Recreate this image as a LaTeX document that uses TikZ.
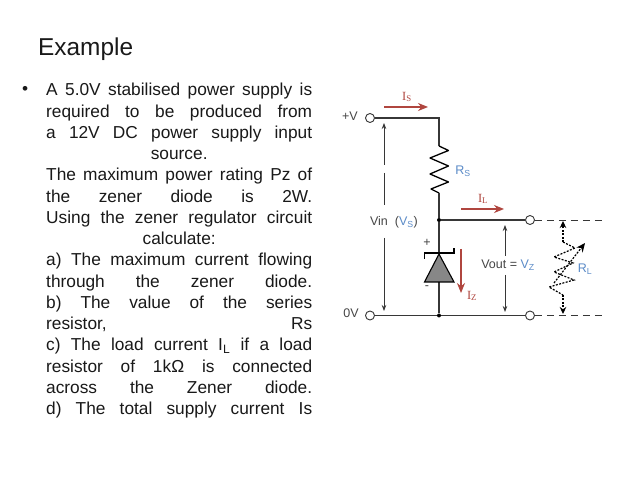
\documentclass[tikz,border=0pt]{standalone}
\usepackage{fontspec}
\setmainfont{Liberation Sans}
\newfontfamily\labelserif{Liberation Serif}
\definecolor{myCurrentRed}{RGB}{176, 70, 63}
\definecolor{myLabelBlue}{RGB}{91, 139, 200}
\definecolor{myWireGrey}{RGB}{55, 55, 55}
\definecolor{myTextGrey}{RGB}{70, 70, 70}
\definecolor{myDiodeGrey}{RGB}{135, 135, 135}
\usetikzlibrary{arrows.meta,positioning}
\newcommand{\bodyline}[1]{\leavevmode\hbox to 266pt{\frenchspacing\spaceskip=.278em plus 1fil\relax #1}}
\newcommand{\bodymid}[1]{\makebox[266pt][c]{#1}}
\tikzset{
    wire/.style={draw=myWireGrey, line width=1.1pt},
    terminal/.style={circle, draw=myWireGrey, fill=white, line width=0.9pt, minimum size=9pt, inner sep=0pt},
    junction/.style={circle, fill=black, minimum size=4pt, inner sep=0pt},
    loadwire/.style={draw=myWireGrey, line width=0.9pt, dash pattern=on 7pt off 5pt},
    currentarrow/.style={draw=myCurrentRed, line width=1.1pt, -{Stealth[length=10pt, width=8pt]}},
    voltarrow/.style={draw=myWireGrey, line width=0.8pt, -{Stealth[length=6pt, width=4.5pt]}},
    dottedpart/.style={draw=black, line width=1.2pt, dash pattern=on 2pt off 1.4pt},
    currentlabel/.style={text=myCurrentRed, font=\fontsize{12.5}{13}\labelserif, inner sep=0pt},
    bluelabel/.style={text=myLabelBlue, font=\fontsize{12.5}{13}\selectfont, inner sep=0pt},
    greylabel/.style={text=myTextGrey, font=\fontsize{12.5}{13}\selectfont, inner sep=0pt}
}

\begin{document}
\begin{tikzpicture}[x=1pt, y=-1pt]
    \useasboundingbox (0,0) rectangle (638,478);
    \fill[white] (0,0) rectangle (638,478);

    \node[anchor=base west, inner sep=0pt, text=black!90, font=\fontsize{24.4}{28}\selectfont] (title) at (38,56) {Example};
    \node[anchor=base west, inner sep=0pt, text=black!90, font=\fontsize{17.3}{20}\selectfont] (bullet) at (22,95) {•};
    \node[anchor=north west, inner sep=0pt, text width=266pt, text=black!90, font=\fontsize{17.3}{21.27}\selectfont] (body) at (46,83) {%
        \bodyline{A 5.0V stabilised power supply is}\\
        \bodyline{required to be produced from}\\
        \bodyline{a 12V DC power supply input}\\
        \bodymid{source.}\\
        \bodyline{The maximum power rating Pz of}\\
        \bodyline{the zener diode is 2W.}\\
        \bodyline{Using the zener regulator circuit}\\
        \bodymid{calculate:}\\
        \bodyline{a) The maximum current flowing}\\
        \bodyline{through the zener diode.}\\
        \bodyline{b) The value of the series}\\
        \bodyline{resistor, Rs}\\
        \bodyline{c) The load current I\textsubscript{L} if a load}\\
        \bodyline{resistor of 1kΩ is connected}\\
        \bodyline{across the Zener diode.}\\
        \bodyline{d) The total supply current Is}};

    \node[terminal] (plusv) at (370,118) {};
    \node[terminal] (zerov) at (370,315.5) {};
    \node[terminal] (outtop) at (530,220) {};
    \node[terminal] (outbot) at (530,315.5) {};
    \node[junction] (jtop) at (439,220) {};
    \node[junction] (jbot) at (439,315.5) {};
    \coordinate (corner) at (439,118);
    \coordinate (rstop) at (439,146);
    \coordinate (rsbot) at (439,193);
    \coordinate (dashtop) at (603,220);
    \coordinate (dashbot) at (603,315.5);
    \coordinate (zbar) at (439,254);
    \coordinate (zbase) at (439,282);

    \draw[wire] (plusv) -- (corner) -- (rstop);
    \draw[black, line width=1.3pt, line join=round] (rstop) -- ++(9.5,4.5) -- ++(-18.5,7.5) -- ++(18.5,8) -- ++(-18.5,8) -- ++(18.5,8) -- ++(-17.5,7) -- (rsbot);
    \draw[wire] (rsbot) -- (jtop);
    \draw[wire] (jtop) -- (zbar);
    \draw[wire] (zbase) -- (jbot);
    \draw[wire] (zerov) -- (jbot);
    \draw[wire] (jbot) -- (outbot);
    \draw[wire] (jtop) -- (outtop);
    \draw[loadwire] (outtop) -- (dashtop);
    \draw[loadwire] (outbot) -- (dashbot);

    \draw[draw=black, fill=myDiodeGrey, line width=1.1pt, line join=miter] (zbar) -- (454,282) -- (424.5,282) -- cycle;
    \draw[draw=black, line width=1.1pt] (424.5,259) -- (424.5,253) -- (454,253) -- (454,248);
    \node[greylabel] (zplus) at (427,243) {+};
    \node[greylabel] (zminus) at (427,288) {-};

    \node[greylabel] (plusvlabel) at (350,116) {+V};
    \node[greylabel] (zerovlabel) at (351,313) {0V};

    \coordinate (vintopa) at (384,165);
    \coordinate (vintoptip) at (384,123);
    \coordinate (vingapa) at (384,173);
    \coordinate (vingapb) at (384,205);
    \coordinate (vindowna) at (384,238);
    \coordinate (vindowntip) at (384,311);
    \draw[voltarrow] (vintopa) -- (vintoptip);
    \draw[draw=myWireGrey, line width=0.8pt] (vingapa) -- (vingapb);
    \draw[voltarrow] (vindowna) -- (vindowntip);
    \node[greylabel] (vinlabel) at (394,222) {Vin\ \ (\textcolor{myLabelBlue}{V\textsubscript{S}})};

    \coordinate (vouttopa) at (505,256);
    \coordinate (vouttoptip) at (505,225);
    \coordinate (voutbota) at (505,275);
    \coordinate (voutbottip) at (505,312);
    \draw[voltarrow] (vouttopa) -- (vouttoptip);
    \draw[voltarrow] (voutbota) -- (voutbottip);
    \node[greylabel] (voutlabel) at (508,265) {Vout = \textcolor{myLabelBlue}{V\textsubscript{Z}}};

    \coordinate (isa) at (384,107);
    \coordinate (isb) at (428,107);
    \coordinate (ila) at (461,209);
    \coordinate (ilb) at (504,209);
    \coordinate (iza) at (461,249);
    \coordinate (izb) at (461,293);
    \draw[currentarrow] (isa) -- (isb);
    \draw[currentarrow] (ila) -- (ilb);
    \draw[currentarrow] (iza) -- (izb);
    \node[currentlabel] (islabel) at (407,97) {I\textsubscript{S}};
    \node[currentlabel] (illabel) at (483,199) {I\textsubscript{L}};
    \node[currentlabel] (izlabel) at (472,296) {I\textsubscript{Z}};

    \node[bluelabel] (rslabel) at (463,171) {R\textsubscript{S}};
    \node[bluelabel] (rllabel) at (585,269) {R\textsubscript{L}};

    \coordinate (rltop) at (563,242);
    \coordinate (rlbot) at (563,295);
    \coordinate (rltiptop) at (563,221);
    \coordinate (rltipbot) at (563,314);
    \coordinate (rlarrowa) at (554,283);
    \coordinate (rlarrowb) at (585,243);
    \draw[dottedpart, -{Stealth[length=7pt, width=6.5pt]}] (rltop) -- (rltiptop);
    \draw[dottedpart, -{Stealth[length=7pt, width=6.5pt]}] (rlbot) -- (rltipbot);
    \draw[dottedpart] (rltop) -- (575,248) -- (554,257) -- (573,263) -- (554,272) -- (574,280) -- (549,287) -- (rlbot);
    \draw[dottedpart, -{Stealth[length=9pt, width=8pt]}] (rlarrowa) -- (rlarrowb);
\end{tikzpicture}
\end{document}
